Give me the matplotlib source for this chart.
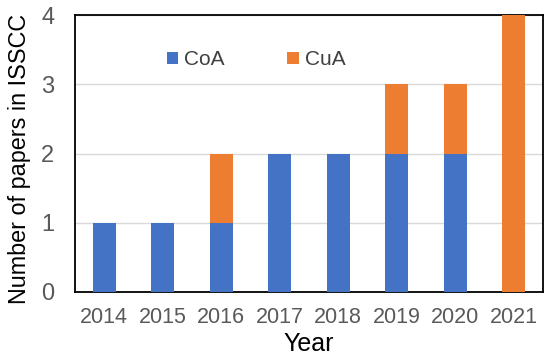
import numpy as np
import matplotlib.pyplot as plt

plt.rcParams['font.family'] = ['Liberation Sans', 'DejaVu Sans']

years = ['2014', '2015', '2016', '2017', '2018', '2019', '2020', '2021']
coa = [1, 1, 1, 2, 2, 2, 2, 0]
cua = [0, 0, 1, 0, 0, 1, 1, 4]

fig = plt.figure(figsize=(5.5, 3.59), dpi=100)
ax = fig.add_axes([75 / 550, 1 - 292 / 359, 468 / 550, 277 / 359])

x = np.arange(len(years))
ax.bar(x, coa, width=0.4, color='#4472C4', label='CoA', zorder=3)
ax.bar(x, cua, width=0.4, bottom=coa, color='#ED7D31', label='CuA', zorder=3)

ax.set_xlim(-0.5, len(years) - 0.5)
ax.set_ylim(0, 4)
ax.set_yticks([0, 1, 2, 3, 4])
ax.set_xticks(x)
ax.set_xticklabels(years)
ax.yaxis.grid(True, color='#D9D9D9', lw=1, zorder=0)
ax.tick_params(axis='y', length=0, labelsize=17, colors='#595959', pad=15)
ax.tick_params(axis='x', length=0, labelsize=15.5, colors='#595959', pad=11)

for s in ax.spines.values():
    s.set_color('black')
    s.set_linewidth(1.3)

ax.set_xlabel('Year', fontsize=18, labelpad=3)
ax.set_ylabel('Number of papers in ISSCC', fontsize=16.8)
ax.yaxis.set_label_coords(-0.094, 0.48)

leg = ax.legend(loc='upper center', bbox_to_anchor=(0.387, 0.94), ncol=2,
                frameon=False, fontsize=15, handlelength=0.55, handleheight=0.55,
                handletextpad=0.3, columnspacing=3.0, labelcolor='#404040')

fig.savefig('out.png', dpi=100)
